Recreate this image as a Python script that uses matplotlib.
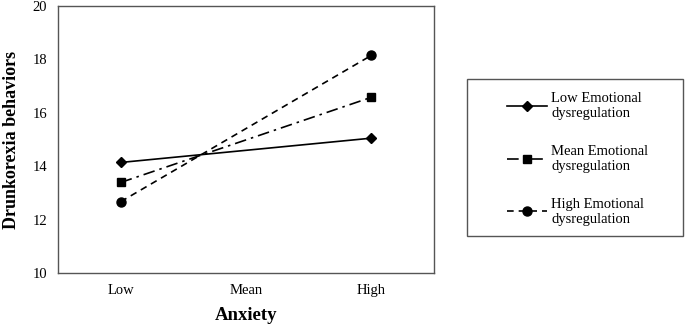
import matplotlib.pyplot as plt
from matplotlib.patches import Rectangle

plt.rcParams['font.family'] = ['Liberation Serif', 'DejaVu Serif']

categories = ['Low', 'Mean', 'High']
series_names = ['Low Emotional\ndysregulation',
                'Mean Emotional\ndysregulation',
                'High Emotional\ndysregulation']
# values at Low and High anxiety only
x_idx = [0, 2]
low_emo = [14.14, 15.05]
mean_emo = [13.39, 16.58]
high_emo = [12.67, 18.15]
yticks = [10, 12, 14, 16, 18, 20]

fig = plt.figure(figsize=(6.85, 3.25), dpi=100)
ax = fig.add_axes([58/685, 1 - 273/325, 376/685, 267/325])

styles = [('-', 'D', 5), ((0, (7, 3, 1.5, 3)), 's', 6), ((0, (4, 3)), 'o', 6.5)]
handles = []
for vals, name, (ls, mk, ms) in zip([low_emo, mean_emo, high_emo], series_names, styles):
    h, = ax.plot(x_idx, vals, color='black', linestyle=ls, marker=mk,
                 markersize=ms, linewidth=1.2, label=name)
    handles.append(h)

ax.set_xlim(-0.5, 2.5)
ax.set_ylim(10, 20)
ax.set_xticks(range(len(categories)))
ax.set_xticklabels(categories)
ax.set_yticks(yticks)
ax.tick_params(length=0, labelsize=10.5, pad=8)
for s in ax.spines.values():
    s.set_color('#555555')
    s.set_linewidth(1)

ax.set_xlabel('Anxiety', fontsize=13.5, fontweight='bold', labelpad=7)
ax.set_ylabel('Drunkorexia behaviors', fontsize=13, fontweight='bold', labelpad=9)

# legend box drawn separately so the entries can sit inside with wide margins
fig.patches.append(Rectangle((467/685, 1 - 236/325), 216/685, 157/325,
                             transform=fig.transFigure, fill=False,
                             edgecolor='#555555', linewidth=1))
leg = fig.legend(handles=handles, loc='upper left',
                 bbox_to_anchor=(507/685, 1 - 92/325),
                 fontsize=10.5, frameon=False, handlelength=2.75,
                 labelspacing=1.7, borderpad=0, borderaxespad=0,
                 handletextpad=0.3)

fig.savefig('out.png', dpi=100)
